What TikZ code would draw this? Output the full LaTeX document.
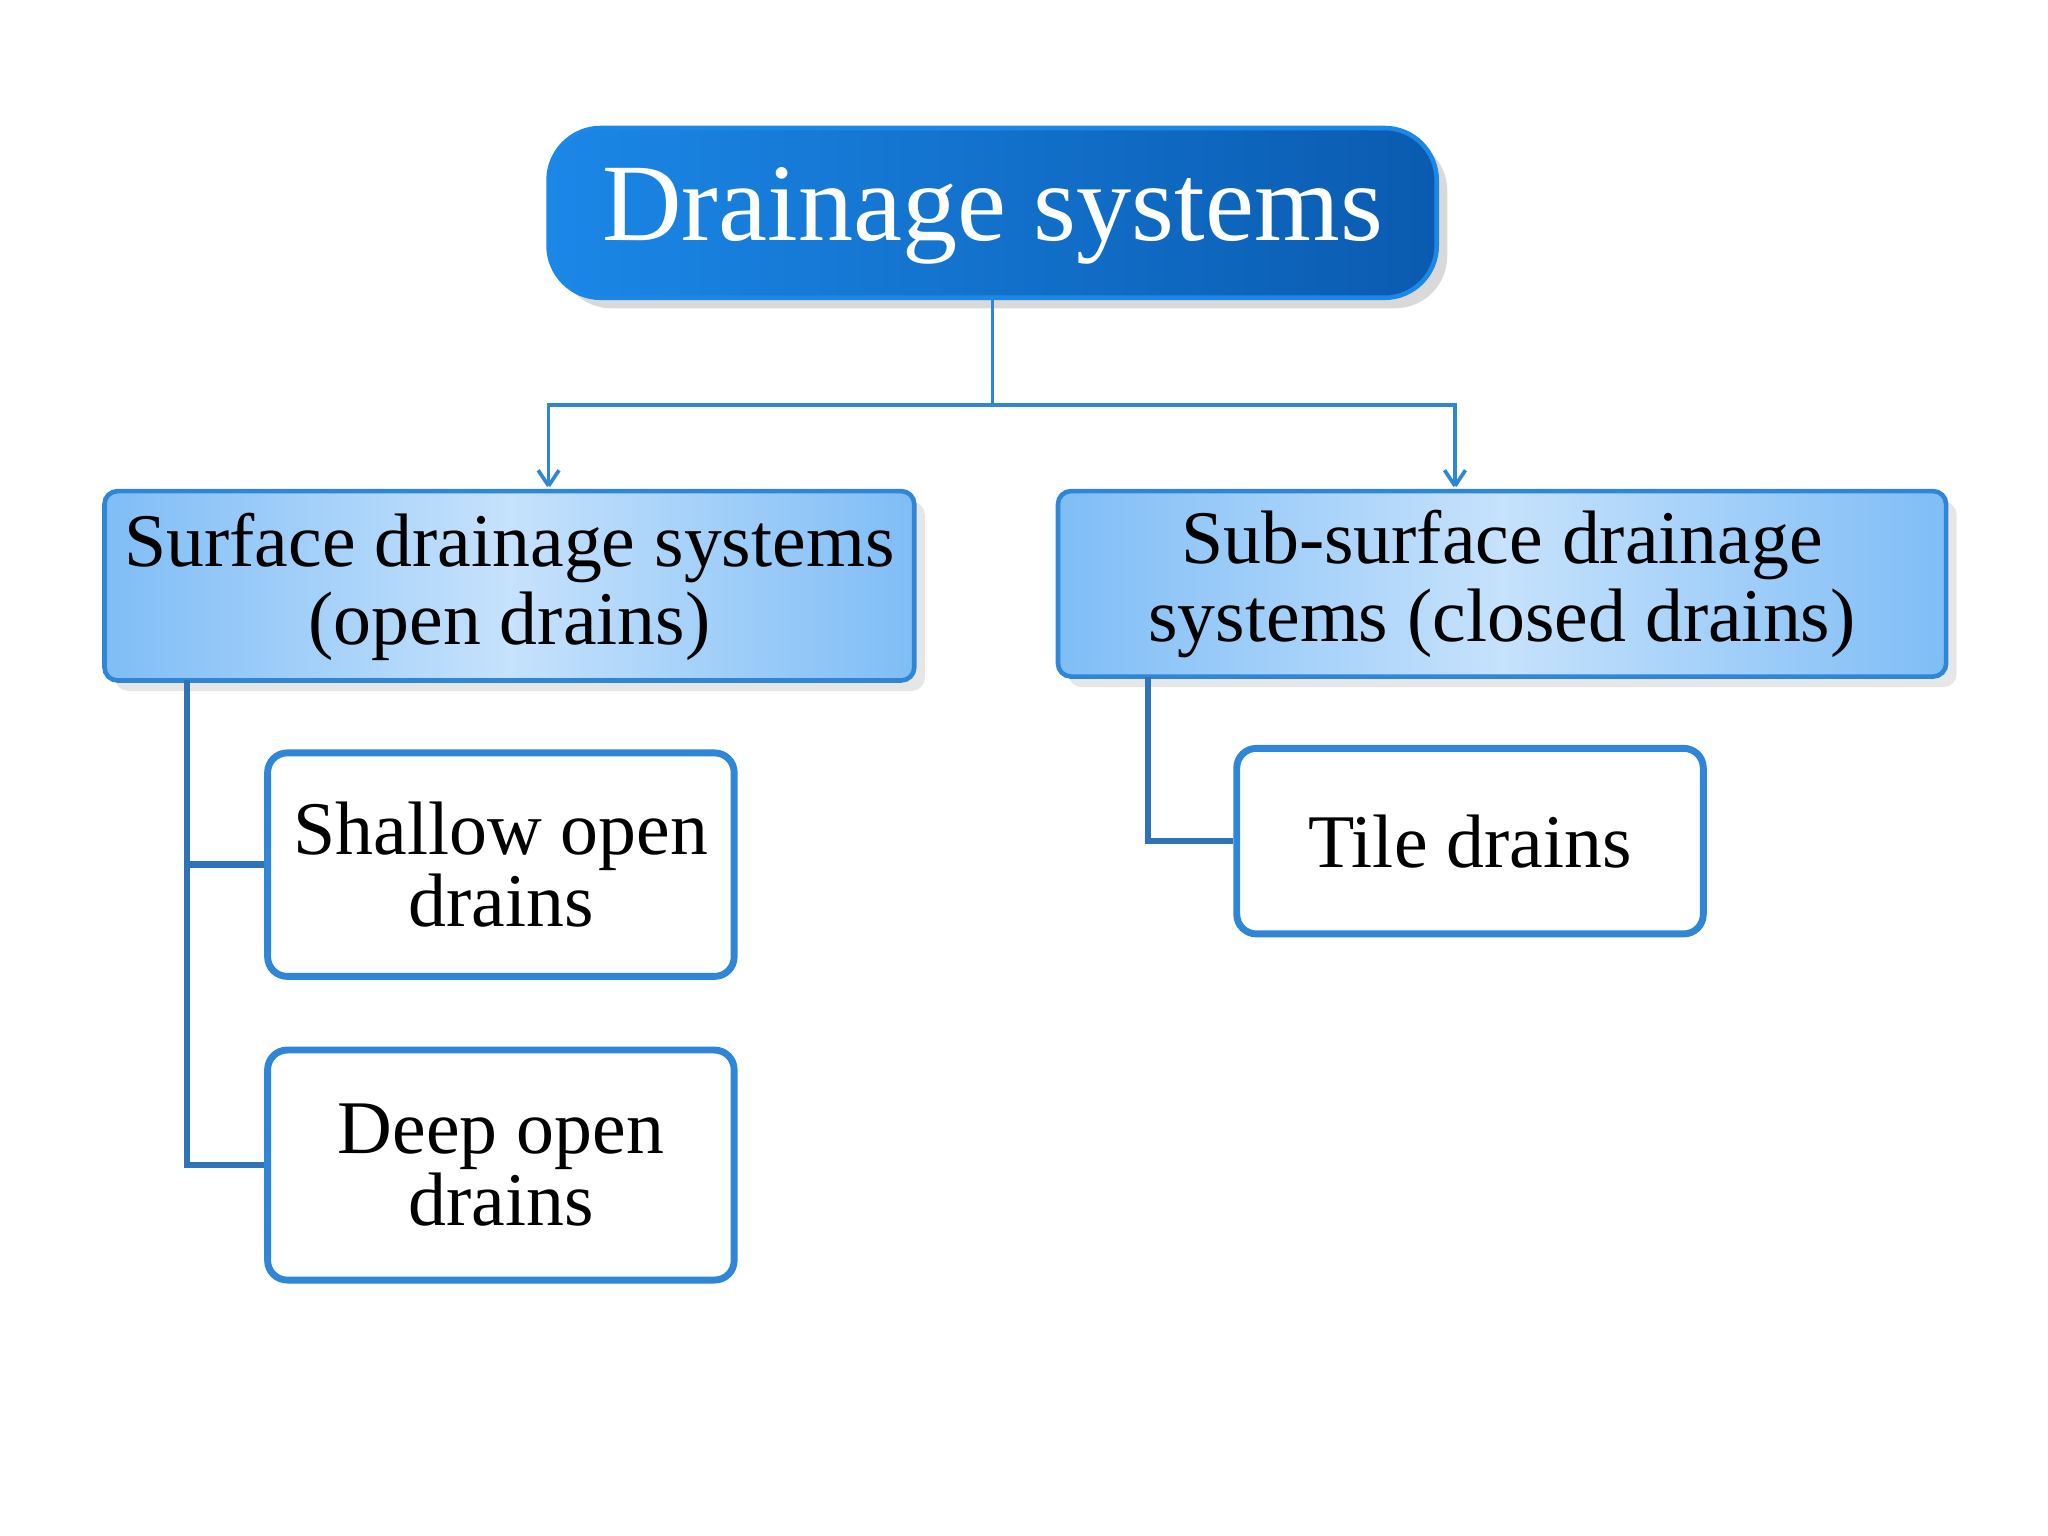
\documentclass[tikz,border=0pt]{standalone}
\usepackage{fontspec}
\setmainfont{Liberation Serif}
\usetikzlibrary{shadows}
\definecolor{dk}{HTML}{0A5BB0}
\definecolor{md}{HTML}{1B87E6}
\definecolor{lb}{HTML}{7FBDF6}
\definecolor{vl}{HTML}{C6E2FC}
\definecolor{ln}{HTML}{2F86D6}
\definecolor{br}{HTML}{2E73B8}
\begin{document}
\begin{tikzpicture}[x=0.01cm,y=-0.01cm,
 top/.style={draw=md,line width=1pt,rounded corners=0.4cm,left color=md,right color=dk,drop shadow={opacity=0.3},text=white,font=\fontsize{24}{26}\selectfont},
 mid/.style={draw=ln,line width=1pt,rounded corners=0.1cm,left color=lb,right color=lb,middle color=vl,drop shadow={opacity=0.2},font=\fontsize{16.5}{17}\selectfont,align=center},
 leaf/.style={draw=ln,line width=1.5pt,rounded corners=0.15cm,fill=white,font=\fontsize{16.5}{15.5}\selectfont,align=center},
 con/.style={draw=ln,line width=0.8pt},
 brk/.style={draw=br,line width=1.4pt}]
\useasboundingbox (0,0) rectangle (1568,1176);
\path[top] (420,98) rectangle (1100,228);
\node[text=white,font=\fontsize{24}{26}\selectfont] (t) at (760,165) {Drainage systems};
\path[mid] (80,376) rectangle (700,521);
\node[font=\fontsize{16.5}{17}\selectfont,align=center] (l) at (390,449) {Surface drainage systems\\(open drains)};
\path[mid] (810,376) rectangle (1490,518);
\node[font=\fontsize{16.5}{17}\selectfont,align=center] (r) at (1150,447) {Sub-surface drainage\\systems (closed drains)};
\node[leaf,minimum width=3.57cm,minimum height=1.71cm] (s) at (383.5,662) {Shallow open\\drains};
\node[leaf,minimum width=3.57cm,minimum height=1.76cm] (d) at (383.5,892) {Deep open\\drains};
\node[leaf,minimum width=3.57cm,minimum height=1.42cm] (ti) at (1125.5,644) {Tile drains};
\coordinate (tb) at (760,228);
\coordinate (la) at (420,372);
\coordinate (ra) at (1114,372);
\draw[con] (tb) -- (760,310) -| (la);
\draw[con] (760,310) -| (ra);
\draw[con] (la) -- ++(-8,-12) (la) -- ++(8,-12);
\draw[con] (ra) -- ++(-8,-12) (ra) -- ++(8,-12);
\draw[brk] (143,521) |- (d.west);
\draw[brk] (143,662) -- (s.west);
\draw[brk] (879,518) |- (ti.west);
\end{tikzpicture}
\end{document}
